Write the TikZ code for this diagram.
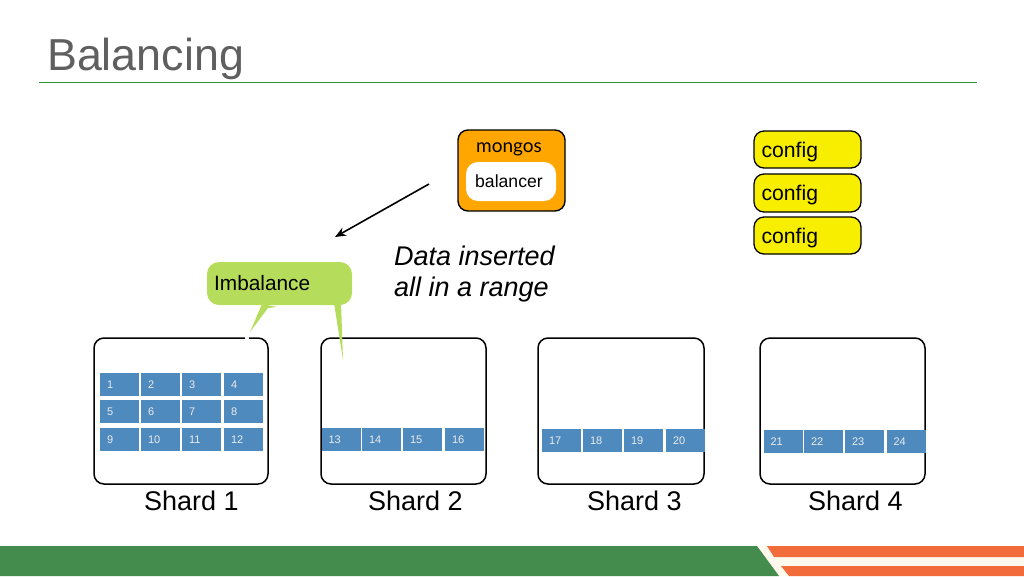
\documentclass[tikz,border=0pt]{standalone}
\usepackage{fontspec}
\usetikzlibrary{arrows.meta}
\setmainfont{Liberation Sans}
\newfontfamily\gillfont{Lato}
\definecolor{titlegray}{HTML}{5F5F5F}
\definecolor{rulegreen}{HTML}{2F9A35}
\definecolor{footgreen}{HTML}{448B4E}
\definecolor{footorange}{HTML}{F26B3A}
\definecolor{footcream}{HTML}{FFF8EC}
\definecolor{chunkblue}{HTML}{4F8ABF}
\definecolor{mongosorange}{HTML}{FFA600}
\definecolor{configyellow}{HTML}{F8EE00}
\definecolor{calloutgreen}{HTML}{B5DC5A}
\tikzset{
	chunk/.style={fill=chunkblue, text=white!92!black, font=\fontsize{11}{12}\selectfont, minimum height=23pt, text width=25pt, text height=8pt, text depth=0pt, inner xsep=7pt, inner ysep=0pt, align=left},
	shard/.style={draw, line width=1.5pt, rounded corners=10pt, minimum height=146pt, inner sep=0pt},
	shardlabel/.style={font=\fontsize{27}{30}\selectfont, anchor=base west, inner sep=0pt},
	configbox/.style={draw, line width=1.3pt, fill=configyellow, rounded corners=10pt, minimum width=107pt, text width=92pt, text height=17pt, text depth=2pt, inner xsep=7.5pt, inner ysep=0pt, align=left, font=\fontsize{21.2}{24}\selectfont}
}
\begin{document}
\begin{tikzpicture}[x=1pt, y=-1pt]
	\useasboundingbox (0,0) rectangle (1024,576);
	% title
	\node at (47,70)[anchor=base west, inner sep=0pt, text=titlegray, font=\fontsize{44.8}{50}\selectfont](title){Balancing};
	\draw [rulegreen, line width=1.6pt](39,82.5) -- (977,82.5);
	% footer
	\fill [footcream](760,546) rectangle (1024,576);
	\fill [footgreen](0,546) -- (757,546) -- (779,576) -- (0,576) -- cycle;
	\fill [footorange](767,546) -- (1024,546) -- (1024,557) -- (774,557) -- cycle;
	\fill [footorange](781,566) -- (1024,566) -- (1024,576) -- (789,576) -- cycle;
	% mongos
	\node at (511.5,170.5)[draw, line width=1.4pt, fill=mongosorange, rounded corners=10pt, minimum width=107pt, minimum height=81pt](mongos){};
	\node at (476,152)[anchor=base west, inner sep=0pt, font=\gillfont\fontsize{19}{22}\selectfont](mongoslabel){mongos};
	\node at (511,181.5)[fill=white, rounded corners=12pt, minimum width=90pt, minimum height=39pt, inner sep=0pt](balancer){};
	\node at (475,187)[anchor=base west, inner sep=0pt, font=\fontsize{17.6}{19}\selectfont](balancerlabel){balancer};
	% config servers
	\node at (807.5,149.5)[configbox, minimum height=37pt](config1){config};
	\node at (807.5,193)[configbox, minimum height=38pt](config2){config};
	\node at (807.5,235.5)[configbox, minimum height=37pt](config3){config};
	% arrow
	\coordinate (arrowstart) at (429,184);
	\coordinate (arrowend) at (335,237);
	\draw [-{Stealth[length=11pt,width=9pt]}, line width=1.6pt](arrowstart) -- (arrowend);
	\node at (394,265)[anchor=base west, inner sep=0pt, font=\itshape\fontsize{27}{30}\selectfont](inserted1){Data inserted};
	\node at (394,296)[anchor=base west, inner sep=0pt, font=\itshape\fontsize{27}{30}\selectfont](inserted2){all in a range};
	% shards
	\node at (181,411)[shard, minimum width=174pt](shard1){};
	\node at (403.5,411)[shard, minimum width=165pt](shard2){};
	\node at (621,411)[shard, minimum width=166pt](shard3){};
	\node at (842.5,411)[shard, minimum width=165pt](shard4){};
	\node at (144,510)[shardlabel](label1){Shard 1};
	\node at (368,510)[shardlabel](label2){Shard 2};
	\node at (587,510)[shardlabel](label3){Shard 3};
	\node at (808,510)[shardlabel](label4){Shard 4};
	% callout
	\fill [white](245,336) rectangle (249,340);
	\fill [calloutgreen](262,304) -- (277,307) -- (268,308) -- (250,332) -- cycle;
	\fill [calloutgreen](334,303) -- (341,303) -- (343,360) -- cycle;
	\node at (279.5,283.5)[fill=calloutgreen, rounded corners=12pt, minimum width=145pt, minimum height=43pt, inner sep=0pt](callout){};
	\node at (214,290)[anchor=base west, inner sep=0pt, font=\fontsize{20.8}{22}\selectfont](calloutlabel){Imbalance};
	% chunks of shard 1
	\node at (119.5,384.5)[chunk](c1){1};
	\node at (160.5,384.5)[chunk](c2){2};
	\node at (201.5,384.5)[chunk](c3){3};
	\node at (243.5,384.5)[chunk](c4){4};
	\node at (119.5,411.5)[chunk](c5){5};
	\node at (160.5,411.5)[chunk](c6){6};
	\node at (201.5,411.5)[chunk](c7){7};
	\node at (243.5,411.5)[chunk](c8){8};
	\node at (119.5,439.5)[chunk](c9){9};
	\node at (160.5,439.5)[chunk](c10){10};
	\node at (201.5,439.5)[chunk](c11){11};
	\node at (243.5,439.5)[chunk](c12){12};
	% chunks of shard 2
	\node at (341,439.5)[chunk](c13){13};
	\node at (381.5,439.5)[chunk](c14){14};
	\node at (422.5,439.5)[chunk](c15){15};
	\node at (464.5,439.5)[chunk](c16){16};
	% chunks of shard 3
	\node at (561.5,440.5)[chunk](c17){17};
	\node at (602.5,440.5)[chunk](c18){18};
	\node at (643.5,440.5)[chunk](c19){19};
	\node at (685.5,440.5)[chunk](c20){20};
	% chunks of shard 4
	\node at (783,441.5)[chunk](c21){21};
	\node at (823.5,441.5)[chunk](c22){22};
	\node at (864.5,441.5)[chunk](c23){23};
	\node at (906,441.5)[chunk](c24){24};
\end{tikzpicture}
\end{document}
